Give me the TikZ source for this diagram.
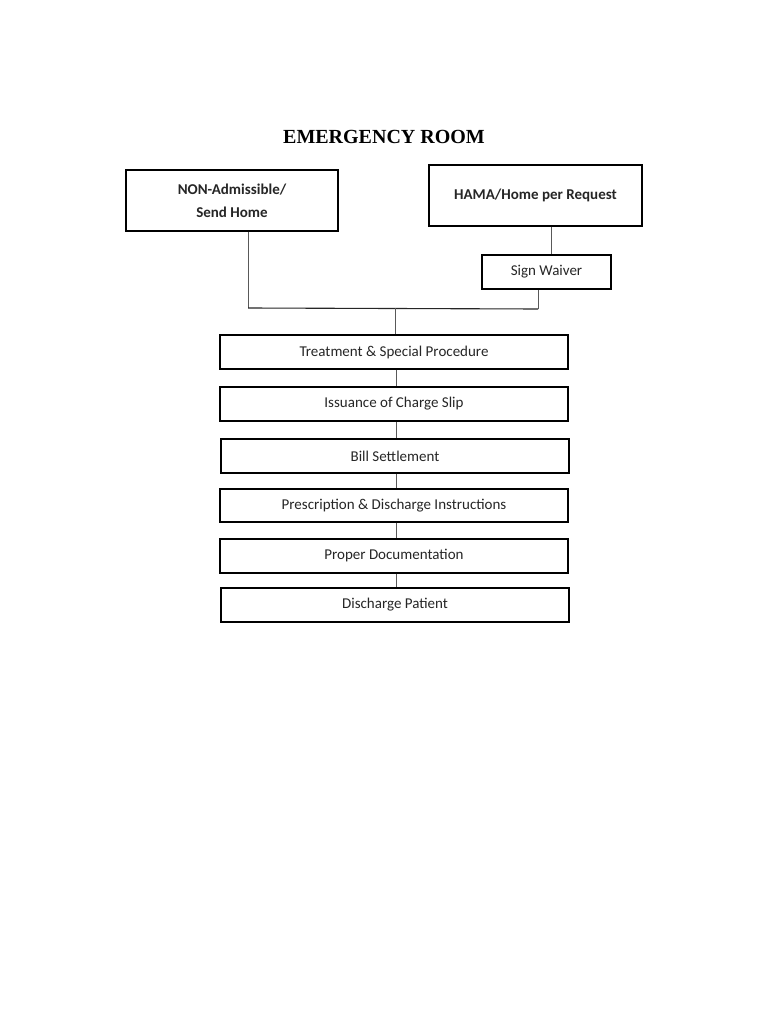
\documentclass[tikz,border=0pt]{standalone}
\usepackage{fontspec}
\setmainfont{Carlito}
\newfontfamily\titlefont{Liberation Serif}
\begin{document}
\begin{tikzpicture}[x=1pt,y=-1pt,
  box/.style={draw=black,line width=1.1pt,inner sep=0pt,align=center,font=\fontsize{15}{18}\selectfont,text=black!85},
  bigbox/.style={box,font=\fontsize{15}{23}\selectfont\bfseries},
  conn/.style={draw=black!65,line width=0.9pt},
  bus/.style={draw=black!85,line width=1.1pt}]
\useasboundingbox[fill=white] (0,0) rectangle (768,1024);
\node[font=\fontsize{20}{24}\selectfont\titlefont\bfseries] (title) at (384,137) {EMERGENCY ROOM};
\node[bigbox,minimum width=212,minimum height=61] (non) at (232,200.5) {NON-Admissible/\\Send Home};
\node[bigbox,minimum width=213,minimum height=61] (hama) at (535.5,195.5) {HAMA/Home per Request};
\node[box,minimum width=129,minimum height=34] (sign) at (546.5,272) {Sign Waiver};
\node[box,minimum width=348,minimum height=34] (treat) at (394,352) {Treatment \& Special Procedure};
\node[box,minimum width=348,minimum height=34] (iss) at (394,404) {Issuance of Charge Slip};
\node[box,minimum width=348,minimum height=34] (bill) at (395,456) {Bill Settlement};
\node[box,minimum width=348,minimum height=33] (pres) at (394,505.5) {Prescription \& Discharge Instructions};
\node[box,minimum width=348,minimum height=34] (doc) at (394,556) {Proper Documentation};
\node[box,minimum width=348,minimum height=34] (dis) at (395,605) {Discharge Patient};
\coordinate (jl) at (248,308);
\coordinate (jr) at (538,309);
\coordinate (jm) at (395,308);
\coordinate (xh) at (551,0);
\coordinate (xc) at (396,0);
\draw[conn] (non.south -| jl) -- (jl);
\draw[bus] (jl) -- (jr);
\draw[conn] (jr) -- (sign.south -| jr);
\draw[conn] (hama.south -| xh) -- (sign.north -| xh);
\draw[conn] (jm) -- (treat.north -| jm);
\draw[conn] (treat.south -| xc) -- (iss.north -| xc);
\draw[conn] (iss.south -| xc) -- (bill.north -| xc);
\draw[conn] (bill.south -| xc) -- (pres.north -| xc);
\draw[conn] (pres.south -| xc) -- (doc.north -| xc);
\draw[conn] (doc.south -| xc) -- (dis.north -| xc);
\end{tikzpicture}
\end{document}
